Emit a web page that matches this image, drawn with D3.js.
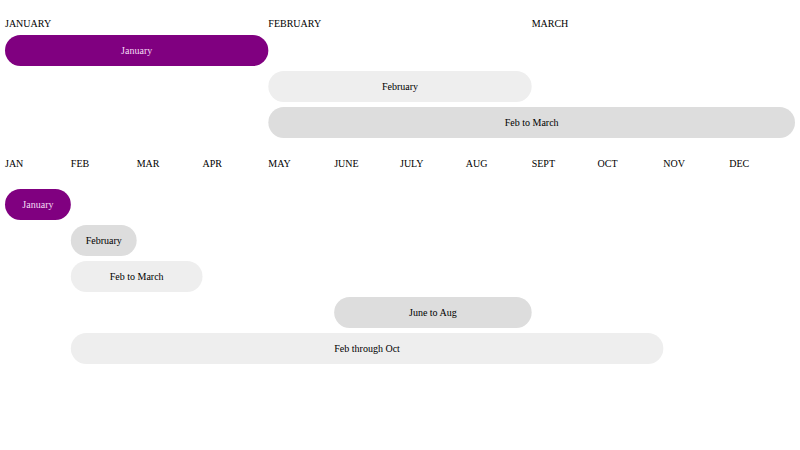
<!DOCTYPE html>
<html>
<head>
<meta charset="utf-8">
<script src="https://cdn.jsdelivr.net/npm/d3@7"></script>
<style>
  html, body { margin: 0; padding: 0; background: #fff; }
  svg { display: block; font-family: "Liberation Serif", "Times New Roman", serif; }
</style>
</head>
<body>
<svg id="chart" width="800" height="450"></svg>
<script>
// Timeline 1: quarter view
const quarterMonths = ["JANUARY", "FEBRUARY", "MARCH"];
const quarterLabels = ["January", "February", "Feb to March"];
const quarterStart  = [0, 1, 1];
const quarterEnd    = [1, 2, 3];

// Timeline 2: year view
const yearMonths = ["JAN", "FEB", "MAR", "APR", "MAY", "JUNE", "JULY", "AUG", "SEPT", "OCT", "NOV", "DEC"];
const yearLabels = ["January", "February", "Feb to March", "June to Aug", "Feb through Oct"];
const yearStart  = [0, 1, 1, 5, 1];
const yearEnd    = [1, 2, 3, 8, 10];

const svg = d3.select("#chart");

function drawTimeline(months, labels, starts, ends, labelY, barTop, altColors) {
  const g = svg.append("g");
  const x = d3.scaleLinear().domain([0, months.length]).range([5, 795]);
  const rowH = 36, barH = 31;
  const y = i => barTop + i * rowH;

  g.selectAll("text.month").data(months).enter().append("text")
    .attr("class", "month")
    .attr("x", (d, i) => x(i))
    .attr("y", labelY)
    .attr("font-size", 10)
    .attr("fill", "#000")
    .text(d => d);

  const data = labels.map((l, i) => ({ label: l, s: starts[i], e: ends[i], i }));
  const fill = d => d.i === 0 ? "#800080" : altColors[(d.i - 1) % 2];

  g.selectAll("rect.bar").data(data).enter().append("rect")
    .attr("class", "bar")
    .attr("x", d => x(d.s))
    .attr("y", d => y(d.i))
    .attr("width", d => x(d.e) - x(d.s))
    .attr("height", barH)
    .attr("rx", barH / 2)
    .attr("ry", barH / 2)
    .attr("fill", fill);

  g.selectAll("text.lbl").data(data).enter().append("text")
    .attr("class", "lbl")
    .attr("x", d => (x(d.s) + x(d.e)) / 2)
    .attr("y", d => y(d.i) + barH / 2 + 3.5)
    .attr("text-anchor", "middle")
    .attr("font-size", 10)
    .attr("fill", d => d.i === 0 ? "#f4dcf4" : "#000")
    .text(d => d.label);
}

drawTimeline(quarterMonths, quarterLabels, quarterStart, quarterEnd, 27, 35, ["#eeeeee", "#dddddd"]);
drawTimeline(yearMonths, yearLabels, yearStart, yearEnd, 167, 189, ["#dddddd", "#eeeeee"]);
</script>
</body>
</html>
